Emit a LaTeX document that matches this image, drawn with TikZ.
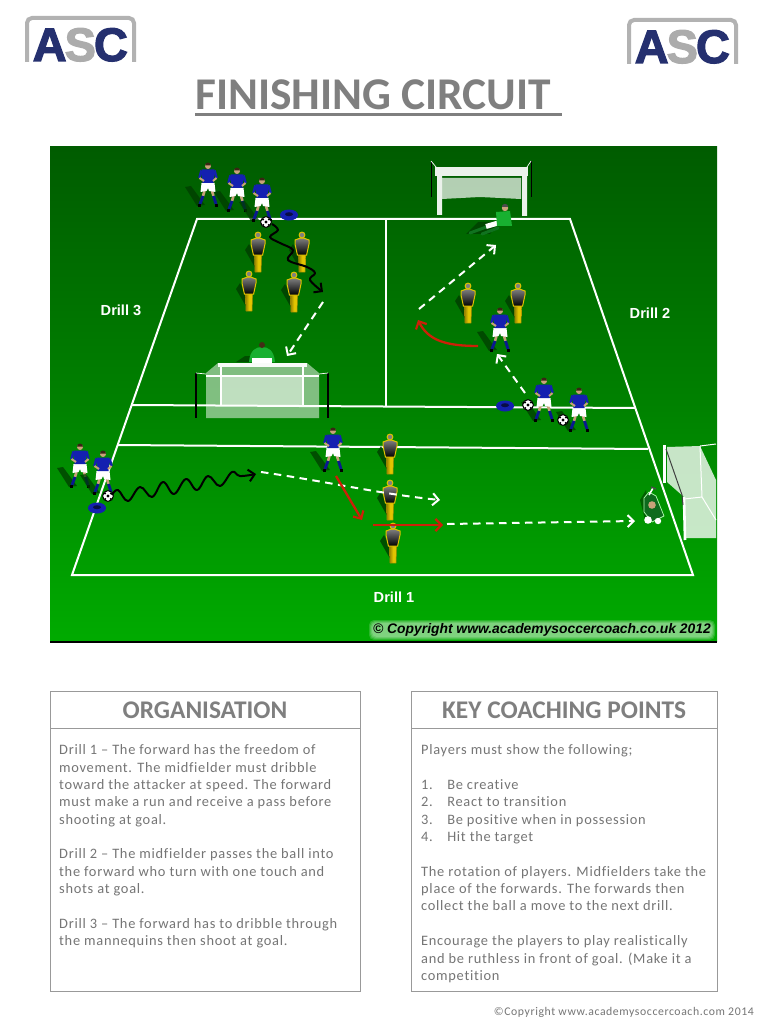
\documentclass[tikz,border=0pt]{standalone}
\usepackage{fontspec}
\setmainfont[LetterSpace=5,Ligatures=NoCommon]{Carlito}
\newfontfamily\headfont{Carlito}
\newfontfamily\logofont[FakeBold=2.5]{Liberation Sans}
\newfontfamily\labelfont{Liberation Sans}
\usetikzlibrary{arrows.meta,calc}
\definecolor{ggray}{HTML}{7F7F7F}
\definecolor{bodygray}{HTML}{757575}
\definecolor{navy}{HTML}{25306F}
\definecolor{kit}{HTML}{1420B0}
\definecolor{sock}{HTML}{0A1890}
\definecolor{skin}{HTML}{C9A27A}
\definecolor{shadowg}{HTML}{003C00}
\definecolor{gold}{HTML}{E2C400}
\definecolor{keeper}{HTML}{18B030}
\definecolor{redrun}{HTML}{CC2008}
\tikzset{
 x=1pt,y=-1pt,
 pitchline/.style={draw=white,line width=2pt,line join=miter},
 pass/.style={draw=white,line width=2pt,dash pattern=on 7.5pt off 5.5pt,-{Straight Barb[length=6pt,width=12pt,line width=2pt]}},
 runline/.style={draw=redrun,line width=2.3pt,-{Straight Barb[length=6pt,width=12pt,line width=2.2pt]}},
 dribble/.style={draw=black,line width=2pt,line join=round,-{Straight Barb[length=6pt,width=12pt,line width=2pt]}},
 drilllabel/.style={text=white,font=\labelfont\bfseries\fontsize{14.6}{16}\selectfont},
 panel/.style={draw=gray!80,line width=.9pt,fill=white},
 panelhead/.style={text=ggray,font=\headfont\bfseries\fontsize{25.4}{27}\selectfont},
 paneltext/.style={text=bodygray,anchor=north west,align=left,inner sep=0pt,
   font=\fontsize{14.4}{17.36}\selectfont},
 player/.pic={
  \fill[shadowg,opacity=.75] (-3,-2) -- (-17,-21) -- (-23,-20) -- (-11,-1) -- cycle;
  \draw[skin,line width=2.6pt] (-3.5,-16) -- (-5,-11);
  \draw[skin,line width=2.6pt] (4,-16) -- (5.5,-11);
  \draw[sock,line width=2.9pt] (-5,-11) -- (-8,-3);
  \draw[sock,line width=2.9pt] (5.5,-11) -- (8,-3);
  \draw[black,line width=2.6pt] (-10,-1.5) -- (-7,-1.5);
  \draw[black,line width=2.6pt] (7,-1.5) -- (10,-1.5);
  \fill[white] (-6.5,-24) -- (6.5,-24) -- (7.5,-15) -- (1,-16) -- (0,-19) -- (-1.5,-16) -- (-7.5,-15) -- cycle;
  \fill[kit] (-6.5,-37.5) -- (6.5,-37.5) -- (5.5,-24) -- (-5.5,-24) -- cycle;
  \draw[kit,line width=2.6pt] (-6.5,-36.5) -- (-8.5,-29);
  \draw[kit,line width=2.6pt] (6.5,-36.5) -- (8.5,-29);
  \draw[skin,line width=2pt] (-8.5,-29) -- (-4,-26);
  \draw[skin,line width=2pt] (8.5,-29) -- (5,-26);
  \fill[skin] (0,-41) circle (3);
  \fill[black!70!brown] (-3,-41.5) arc (180:360:3) -- cycle;
 },
 dummy/.pic={
  \fill[shadowg,opacity=.8] (-1,-1) -- (-13,-22) -- (-9,-28) -- (3,-5) -- cycle;
  \draw[gold!70!black,line width=.5pt,left color=gold!65!black,right color=gold,middle color=gold]
     (-3.7,-19) -- (3.7,-19) -- (3,0) -- (-3,0) -- cycle;
  \draw[gold,line width=1pt,top color=black!50,bottom color=black]
     (-1.4,-34) -- (-7,-32) -- (-7,-28) -- (-4.6,-17) -- (4.6,-17) -- (7,-28) -- (7,-32) -- (1.4,-34) -- cycle;
  \draw[gold,line width=1pt,fill=black!50] (0,-37) circle (2.9);
 },
 ballpic/.pic={
  \draw[black,line width=1pt,fill=white] (0,0) circle (5.4);
  \fill[black] (0,0) circle (1.7) (-3,-2.6) circle (1.2) (3,-2.6) circle (1.2) (-2.8,3) circle (1.2) (2.9,3) circle (1.2);
 },
 conepic/.pic={
  \fill[kit] (0,0) ellipse (9 and 5.5);
  \fill[black!60!kit] (0,-.8) ellipse (4 and 2);
 },
 logopic/.pic={
  \draw[gray!60,line width=4pt,rounded corners=5pt] (2,46) -- (2,2) -- (109,2) -- (109,46);
  \node[anchor=base west,inner sep=0pt,font=\logofont\bfseries\fontsize{47}{47}\selectfont] (#1) at (7.5,45)
    {\textcolor{navy}{A}\kern-2pt\textcolor{gray!65}{S}\kern-2pt\textcolor{navy}{C}};
 },
}
\begin{document}
\begin{tikzpicture}
\useasboundingbox (0,0) rectangle (768,1024);
\fill[white] (0,0) rectangle (768,1024);
% logos & title
\pic at (25,16) {logopic=logoL};
\pic at (627,18) {logopic=logoR};
\node[anchor=base west,inner sep=0pt,text=ggray,font=\headfont\bfseries\fontsize{45.4}{48}\selectfont] (title) at (195,110) {FINISHING CIRCUIT};
\fill[ggray] (195,113) rectangle (562,116);
% pitch background
\shade[top color=green!36!black,bottom color=green!67!black,middle color=green!50!black] (50,147) rectangle (717,641);
\fill[black] (50,641) rectangle (717,643);
% field lines
\draw[pitchline] (72,575) -- (197,219) -- (570,219) -- (693,575) -- cycle;
\draw[pitchline] (386,219) -- (386,406);
\draw[pitchline] (132,405) -- (635,408);
\draw[pitchline] (118,445) -- (648,449);
% top goal
\fill[white,opacity=.92] (435,167) -- (528,167) -- (528,176) -- (435,176) -- cycle;
\fill[white,opacity=.92] (437,176) rectangle (442,215) (522,176) rectangle (527,216);
\fill[white,opacity=.7] (442,178) -- (521,178) -- (521,199) -- (480,197) -- (442,199) -- cycle;
\draw[black,line width=.9pt] (431,161) -- (431,197) (531,161) -- (531,197);
\draw[white,line width=.7pt] (431,161) -- (436,167) (531,161) -- (527,167);
% drill 3 goal
\fill[white,opacity=.5] (206,373) -- (218,363) -- (307,363) -- (319,373) -- (319,418) -- (206,418) -- cycle;
\fill[white,opacity=.5] (221,377) rectangle (303,406);
\fill[white,opacity=.95] (218,363) rectangle (307,367);
\draw[white,line width=2.4pt] (221,367) -- (221,405) (303,367) -- (303,405) (206,376) -- (319,376);
\draw[black,line width=1.1pt] (196,373) -- (196,418) (328,373) -- (328,418);
\draw[white,line width=.7pt] (196,373) -- (206,374) (328,373) -- (319,374);
% right goal
\fill[white,opacity=.78] (667,447) -- (700,446) -- (716,480) -- (716,538) -- (686,538) -- (684,497) -- (667,482) -- cycle;
\draw[white,line width=1pt] (700,446) -- (702,497) -- (716,520) (684,499) -- (702,497);
\draw[white,line width=3pt] (664,445) -- (664,483);
\draw[white,line width=2.6pt] (684,497) -- (685,540);
\draw[black!75,line width=1pt] (666,449) -- (682,495) -- (683,505);
\draw[white,line width=1pt] (700,446) -- (716,444);
% mannequins
\pic at (258,272) {dummy};
\pic at (302,272) {dummy};
\pic at (249,311) {dummy};
\pic at (294,312) {dummy};
\pic at (468,323) {dummy};
\pic at (518,323) {dummy};
\pic at (390,474) {dummy};
\pic at (390,520) {dummy};
\pic at (393,563) {dummy};
% players
\pic at (208,207) {player};
\pic at (237,212) {player};
\pic at (262,222) {player};
\pic at (500,352) {player};
\pic at (544,422) {player};
\pic at (579,432) {player};
\pic at (80,488) {player};
\pic at (103,495) {player};
\pic at (333,472) {player};
% keeper drill 3
\fill[shadowg,opacity=.7] (236,362) -- (245,356) -- (255,356) -- (255,362) -- cycle;
\fill[keeper] (249,362) .. controls (250,350) and (256,347) .. (262,347) .. controls (268,347) and (274,350) .. (275,362) -- cycle;
\fill[white] (252,358) rectangle (272,363);
\fill[black!65!brown] (262,345) circle (3);
% diving keeper top
\fill[shadowg,opacity=.75] (466,234) -- (478,222) -- (498,222) -- (490,234) -- cycle;
\draw[keeper!65!black,line width=3pt,line cap=round] (470,233) -- (489,226);
\draw[keeper!65!black,line width=3pt,line cap=round] (482,234) -- (498,228);
\draw[white,line width=5pt] (486,226.5) -- (498,223);
\fill[keeper] (496,212) -- (510,211) -- (512,226) -- (497,226) -- cycle;
\fill[skin] (505,208) circle (3.2);
\fill[black!70] (501.8,207) arc (180:360:3.2) -- cycle;
% lying keeper right
\fill[shadowg,opacity=.6] (640,500) -- (646,490) -- (650,515) -- (645,520) -- cycle;
\draw[white!70!green,line width=.7pt,fill=keeper!60!black] (644,498) -- (649,492) -- (656,496) -- (664,516) -- (652,522) -- (644,512) -- cycle;
\fill[skin] (652,505) circle (3.8);
\fill[white] (648,520) circle (3.8) (658,521) circle (3.2);
\draw[white,line width=1.6pt] (649,495) -- (653,488);
\draw[black!70,line width=1.4pt] (651,487) -- (656,489);
% balls, cones
\pic at (289,215) {conepic};
\pic at (505,406) {conepic};
\pic at (97,508) {conepic};
\pic at (266,222) {ballpic};
\pic at (528,405) {ballpic};
\pic at (563,420) {ballpic};
\pic at (108,496) {ballpic};
% named ends
\coordinate (d3start) at (272,224);
\coordinate (d3end) at (323,292);
\coordinate (d3shot) at (323,302);
\coordinate (d3aim) at (287,356);
\coordinate (d2pass) at (525,393);
\coordinate (d2recv) at (497,354);
\coordinate (d2runA) at (478,346);
\coordinate (d2runB) at (418,320);
\coordinate (d2shot) at (419,309);
\coordinate (d2aim) at (496,245);
\coordinate (d1start) at (112,495);
\coordinate (d1end) at (256,474);
\coordinate (d1pass) at (261,472);
\coordinate (d1aim) at (440,500);
\coordinate (d1runA) at (336,476);
\coordinate (d1runB) at (362,520);
\coordinate (d1runC) at (373,525);
\coordinate (d1runD) at (443,525);
\coordinate (d1shot) at (447,524);
\coordinate (d1goal) at (635,521);
% connectors
\draw[dribble] plot[smooth,tension=.6] coordinates {(d3start) (278,230) (270,237) (280,243) (293,250) (288,260) (307,267) (315,273) (310,280) (d3end)};
\draw[pass] (d3shot) -- (d3aim);
\draw[pass] (d2pass) -- (d2recv);
\draw[runline] (d2runA) .. controls (445,346) and (428,340) .. (d2runB);
\draw[pass] (d2shot) -- (d2aim);
\draw[dribble] plot[smooth,tension=.65] coordinates {(d1start) (118,490) (128,501) (140,487) (152,497) (163,482) (174,494) (186,479) (197,490) (208,476) (220,486) (232,472) (240,476) (d1end)};
\draw[pass] (d1pass) .. controls (330,482) and (380,494) .. (d1aim);
\draw[runline] (d1runA) -- (d1runB);
\draw[runline] (d1runC) -- (d1runD);
\draw[pass] (d1shot) -- (d1goal);
% pitch labels
\node[drilllabel] (drillA) at (121,310) {Drill 3};
\node[drilllabel] (drillB) at (650,313) {Drill 2};
\node[drilllabel] (drillC) at (394,597) {Drill 1};
\foreach \o in {0,1,2,3}{\fill[white,opacity=.16,rounded corners=5pt] ($(369,620)+(\o,\o)$) rectangle ($(715,640)-(\o,\o)$);}
\node[text=black,inner sep=0pt,font=\labelfont\bfseries\itshape\fontsize{13.85}{15}\selectfont] (copy1) at (542,630) {© Copyright www.academysoccercoach.co.uk 2012};
% panels
\path[panel] (50,691) rectangle (360,991);
\draw[panel] (50,728) -- (360,728);
\path[panel] (411,691) rectangle (717,991);
\draw[panel] (411,728) -- (717,728);
\node[panelhead] (hL) at (205,710) {ORGANISATION};
\node[panelhead] (hR) at (564,710) {KEY COACHING POINTS};
\node[paneltext] (tL) at (59,744.5) {Drill 1 – The forward has the freedom of\\
movement. The midfielder must dribble\\
toward the attacker at speed. The forward\\
must make a run and receive a pass before\\
shooting at goal.\\[17.36pt]
Drill 2 – The midfielder passes the ball into\\
the forward who turn with one touch and\\
shots at goal.\\[17.36pt]
Drill 3 – The forward has to dribble through\\
the mannequins then shoot at goal.};
\node[paneltext] (tR) at (421,744.5) {Players must show the following;\\[17.36pt]
1.\hspace{1em}Be creative\\
2.\hspace{1em}React to transition\\
3.\hspace{1em}Be positive when in possession\\
4.\hspace{1em}Hit the target\\[17.36pt]
The rotation of players. Midfielders take the\\
place of the forwards. The forwards then\\
collect the ball a move to the next drill.\\[17.36pt]
Encourage the players to play realistically\\
and be ruthless in front of goal. (Make it a\\
competition};
\node[anchor=east,inner sep=0pt,text=bodygray,font=\fontsize{11.75}{14}\selectfont] (foot) at (754,1012) {©Copyright www.academysoccercoach.com 2014};
\end{tikzpicture}
\end{document}
